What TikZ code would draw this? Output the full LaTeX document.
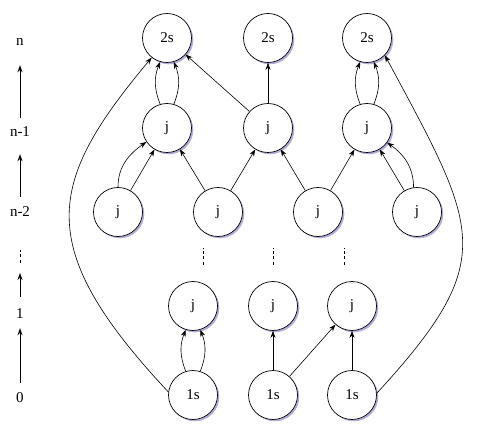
\documentclass[tikz,border=0pt]{standalone}
\usepackage{fontspec}
\setmainfont{Liberation Serif}
\usetikzlibrary{arrows.meta,shadows}
\definecolor{shadowc}{RGB}{140,128,200}
\begin{document}
\begin{tikzpicture}[x=1pt,y=1pt,
  st/.style={circle, draw, line width=0.7pt, minimum size=49pt, inner sep=0pt, fill=white,
    font=\fontsize{15}{17}\selectfont,
    drop shadow={shadow xshift=1.8pt, shadow yshift=-1.8pt, fill=shadowc, opacity=0.65}},
  lbl/.style={font=\fontsize{15}{17}\selectfont, inner sep=0pt, text height=9pt, text depth=0pt},
  arr/.style={-{Stealth[length=7pt,width=5pt]}, line width=0.6pt},
  larr/.style={-{Stealth[length=7pt,width=5pt]}, line width=1pt},
  vd/.style={dash pattern=on 3pt off 2.5pt, line width=0.6pt}]
\useasboundingbox (0,0) rectangle (489,439);
% level labels
\node[lbl] (ln)  at (20,398) {n};
\node[lbl] (ln1) at (20,307) {n-1};
\node[lbl] (ln2) at (20,227) {n-2};
\coordinate (ldots) at (20,176);
\draw[vd] (ldots) -- ++(0,13);
\node[lbl] (l1)  at (20,125) {1};
\node[lbl] (l0)  at (20,41) {0};
\draw[larr, shorten <=9.5pt, shorten >=19.5pt] (ln1) -- (ln);
\draw[larr, shorten <=10.5pt, shorten >=17.5pt] (ln2) -- (ln1);
\draw[larr, shorten <=12.5pt, shorten >=10pt] (l1) -- (ldots);
\draw[larr, shorten <=10.5pt, shorten >=9.5pt] (l0) -- (l1);
% nodes
\node[st] (t1) at (167,401) {2s};
\node[st] (t2) at (268,401) {2s};
\node[st] (t3) at (367,401) {2s};
\node[st] (j1) at (167,311) {j};
\node[st] (j2) at (268,311) {j};
\node[st] (j3) at (367,311) {j};
\node[st] (ja) at (118,227) {j};
\node[st] (jb) at (218,227) {j};
\node[st] (jc) at (318,227) {j};
\node[st] (jd) at (417,227) {j};
\node[st] (k1) at (193,133) {j};
\node[st] (k2) at (273,133) {j};
\node[st] (k3) at (352,133) {j};
\node[st] (s1) at (193,44) {1s};
\node[st] (s2) at (273,44) {1s};
\node[st] (s3) at (352,44) {1s};
% dots
\draw[vd] (203,174) -- (203,191);
\draw[vd] (273,174) -- (273,191);
\draw[vd] (344,174) -- (344,191);
% edges top
\draw[arr] (j1.106) to[bend left=22] (t1.254);
\draw[arr] (j1.74) to[bend right=22] (t1.286);
\draw[arr] (j2) -- (t1);
\draw[arr] (j2) -- (t2);
\draw[arr] (j3.106) to[bend left=22] (t3.254);
\draw[arr] (j3.74) to[bend right=22] (t3.286);
\draw[arr] (ja) -- (j1);
\draw[arr] (ja.90) to[out=90, in=215] (j1.214);
\draw[arr] (jb) -- (j1);
\draw[arr] (jb) -- (j2);
\draw[arr] (jc) -- (j2);
\draw[arr] (jc) -- (j3);
\draw[arr] (jd) -- (j3);
\draw[arr] (jd.98) to[out=90, in=-35] (j3.-36);
% edges bottom
\draw[arr] (s1.107) to[bend left=22] (k1.253);
\draw[arr] (s1.73) to[bend right=22] (k1.287);
\draw[arr] (s2) -- (k2);
\draw[arr] (s2) -- (k3);
\draw[arr] (s3) -- (k3);
% long curves
\draw[arr] (s1.173) .. controls (31.6,193.2) and (47.1,256.4) .. (t1.232);
\draw[arr] (s3.4) .. controls (500,180) and (479,208.5) .. (t3.316);
\end{tikzpicture}
\end{document}
